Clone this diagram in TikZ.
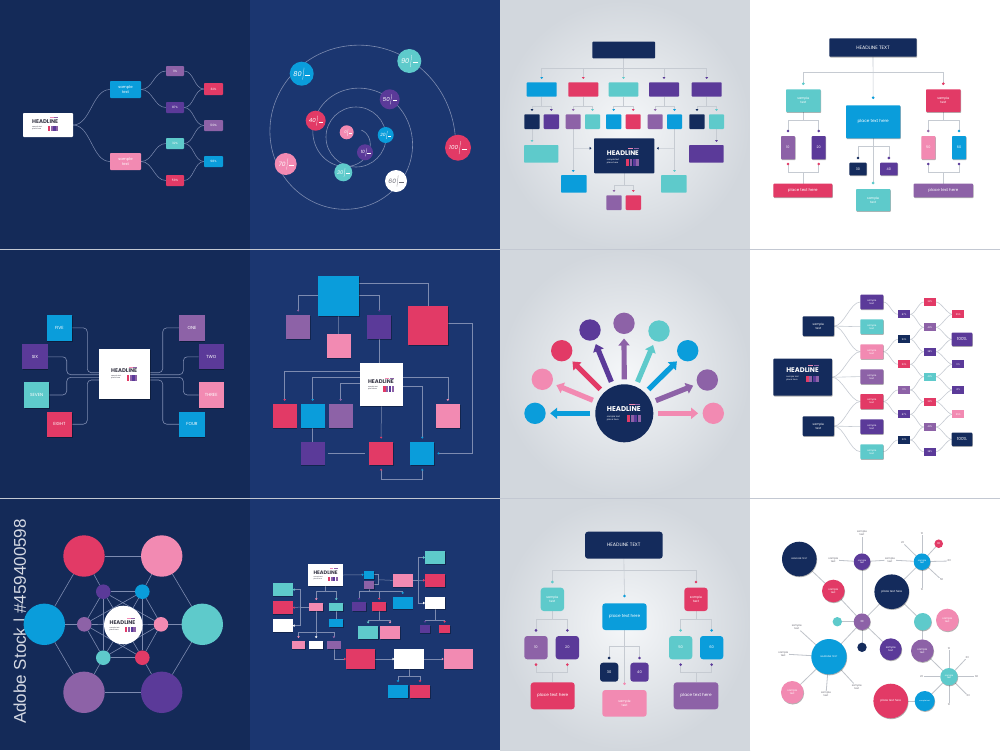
\documentclass[tikz,border=0pt]{standalone}
\usepackage{fontspec}
\setmainfont{Poppins}
\newfontfamily\wmfont{Liberation Sans}
\usetikzlibrary{arrows.meta,calc,shadows}
\pgfdeclarelayer{back}
\pgfdeclarelayer{lines}
\pgfsetlayers{back,lines,main}
\definecolor{bgA}{HTML}{142A58}
\definecolor{bgB}{HTML}{1B3670}
\definecolor{gIn}{HTML}{F5F7F9}
\definecolor{gOut}{HTML}{D2D7DD}
\definecolor{cblue}{HTML}{0A9DDB}
\definecolor{cpink}{HTML}{F28AB2}
\definecolor{cred}{HTML}{E23A66}
\definecolor{cteal}{HTML}{5ECACB}
\definecolor{cpurple}{HTML}{5B3A99}
\definecolor{clpur}{HTML}{8D62A7}
\definecolor{cnavy}{HTML}{142B5C}
\definecolor{lnD}{HTML}{7D8BB0}
\definecolor{lnL}{HTML}{C6CBD2}
\definecolor{txg}{HTML}{6B6B75}
\definecolor{hlg}{HTML}{3B3B4A}
\definecolor{sepc}{HTML}{C3C8D2}
\definecolor{wmc}{HTML}{D5D9E3}
\newcommand\fs[2]{\fontsize{#1}{#2}\selectfont}
\newcommand\mkbox[7]{\node[#6, minimum width={(#4)-(#2)}, minimum height={(#5)-(#3)}] (#1) at ({((#2)+(#4))/2},{((#3)+(#5))/2}) {#7};}
\newcommand\mkcirc[6]{\node[#5, minimum size={2*(#4)}] (#1) at (#2,#3) {#6};}
\newcommand\hlblock[4]{%
\begin{scope}[shift={(#1,#2)}, scale=#3, transform shape]
\node[anchor=base west, inner sep=0pt, font=\bfseries\fs{5.4}{5.4}, text=#4] at (-13.5,-1.7) {HEADLINE};
\node[anchor=north west, inner sep=0pt, font=\fs{1.7}{2.2}, text=#4, align=left] at (-13.5,0.9) {sample text\\place here};
\fill[cred] (2.3,1) rectangle (4.5,6.3);
\fill[clpur] (5.1,1) rectangle (7.3,6.3);
\fill[cpurple] (7.9,1) rectangle (10.1,6.3);
\fill[clpur] (10.7,1) rectangle (12.9,6.3);
\fill[cpink] (4,-7.9) rectangle (8,-7.4);
\fill[clpur] (8.6,-7.9) rectangle (12.5,-7.4);
\end{scope}}
\newcommand\mkorb[8]{%
\node[circle, fill=#5, inner sep=0pt, minimum size={2*(#4)}] (#1) at (#2,#3) {};
\node[anchor=east, inner sep=0pt, font=\itshape\fs{#7}{#7}, text=#8] at ($(#1)+({0.02*(#4)},0)$) {#6};
\draw[#8, line width=0.25pt] ($(#1)+({0.2*(#4)},{-0.5*(#4)})$) -- ($(#1)+({0.08*(#4)},{0.5*(#4)})$);
\draw[#8, line width=0.3pt] ($(#1)+({0.3*(#4)},{0.12*(#4)})$) -- ($(#1)+({0.72*(#4)},{0.12*(#4)})$);}
\tikzset{
 bx/.style={rectangle, inner sep=0pt, outer sep=0pt, fill=#1, text=white, align=center, rounded corners=0.8pt},
 sqb/.style={rectangle, inner sep=0pt, outer sep=0pt, fill=#1, text=white, align=center},
 rbx/.style={rectangle, inner sep=0pt, outer sep=0pt, fill=#1, text=white, align=center, rounded corners=3pt},
 cir/.style={circle, inner sep=0pt, outer sep=0pt, fill=#1, text=white, align=center},
 lnd/.style={draw=lnD, line width=0.5pt},
 lnl/.style={draw=lnL, line width=0.6pt},
 sc/.style={to path={.. controls +(#1,0) and +(-#1,0) .. (\tikztotarget)}},
 sc/.default=12,
 dn/.style={lnl, -{Triangle[length=1.8pt,width=2.6pt,color=#1]}},
 dd/.style={lnl, -{Circle[length=2.6pt,color=#1]}},
 an/.style={lnd, -{Triangle[length=1.8pt,width=2.4pt,color=#1]}},
 shd/.style={drop shadow={shadow xshift=0.5pt, shadow yshift=-0.9pt, opacity=0.3, fill=black}},
 arw/.style={draw=#1, line width=5.2pt, -{Triangle[length=7pt,width=11pt]}, shorten <=5pt, shorten >=4.5pt},
 tl/.style={font=\fs{2.6}{3.1}, text=txg, align=center, inner sep=0.6pt, fill=white},
}
\newcommand\pairdn[6]{%
\coordinate (#1bus) at ($(#1.south)+(0,#6)$);
\draw[lnl] (#1.south) -- (#1bus);
\draw[dn=#4] (#1bus) -| ($(#2.north)+(0,-3.3)$);
\draw[dn=#5] (#1bus) -| ($(#3.north)+(0,-3.3)$);}
\newcommand\pairdd[7]{%
\coordinate (#1bus) at ($(#1.south)+(0,#6)$);
\draw[lnl] (#1.south) -- (#1bus);
\draw[dd=#4] (#1bus) -| ($(#2.north)+(0,-#7)$);
\draw[dd=#5] (#1bus) -| ($(#3.north)+(0,-#7)$);}
\newcommand\mergeup[7]{%
\draw[lnl, {Circle[length=2.6pt,color=#4]}-] ($(#1.south)+(0,#6)$) |- ($(#3.north)+(0,-#7)$) -- (#3.north);
\draw[lnl, {Circle[length=2.6pt,color=#5]}-] ($(#2.south)+(0,#6)$) |- ($(#3.north)+(0,-#7)$);}
\begin{document}
\begin{tikzpicture}[x=1pt,y=-1pt]
\useasboundingbox (0,0) rectangle (1000,750);
% ================= backgrounds
\begin{pgfonlayer}{back}
\fill[bgA] (0,0) rectangle (250,249.5);
\fill[bgB] (250,0) rectangle (500,249.5);
\shade[inner color=gIn, outer color=gOut] (500,0) rectangle (750,249.5);
\fill[white] (750,0) rectangle (1000,249.5);
\fill[bgA] (0,249.5) rectangle (250,498.5);
\fill[bgB] (250,249.5) rectangle (500,498.5);
\shade[inner color=gIn, outer color=gOut] (500,249.5) rectangle (750,498.5);
\fill[white] (750,249.5) rectangle (1000,498.5);
\fill[bgA] (0,498.5) rectangle (250,750);
\fill[bgB] (250,498.5) rectangle (500,750);
\shade[inner color=gIn, outer color=gOut] (500,498.5) rectangle (750,750);
\fill[white] (750,498.5) rectangle (1000,750);
\draw[sepc, line width=1.2pt] (0,249.5) -- (1000,249.5);
\draw[sepc, line width=1.2pt] (0,498.5) -- (1000,498.5);
\end{pgfonlayer}

% ================= Panel 1
\mkbox{p1h}{23}{113}{73}{137}{bx=white}{}
\hlblock{45.5}{125}{1}{hlg}
\mkbox{p1s}{110}{81}{141}{98}{bx=cblue,font=\fs{3.8}{4.8}}{sample\\text}
\mkbox{p1t}{110}{153}{141}{170}{bx=cpink,font=\fs{3.8}{4.8}}{sample\\text}
\mkbox{p1a}{166}{66}{184}{76}{bx=clpur,font=\fs{3}{3}}{11\%}
\mkbox{p1b}{166}{102}{184}{113}{bx=cpurple,font=\fs{3}{3}}{87\%}
\mkbox{p1c}{166}{138}{184}{149}{bx=cteal,font=\fs{3}{3}}{32\%}
\mkbox{p1d}{166}{175}{184}{186}{bx=cred,font=\fs{3}{3}}{59\%}
\mkbox{p1e}{204}{83}{223}{95}{bx=cred,font=\fs{3}{3}}{32\%}
\mkbox{p1f}{204}{120}{223}{131}{bx=clpur,font=\fs{3}{3}}{100\%}
\mkbox{p1g}{204}{156}{223}{167}{bx=cblue,font=\fs{3}{3}}{98\%}
\begin{pgfonlayer}{lines}
\draw[lnd] (p1h.east) to[sc=18] (p1s.west);
\draw[lnd] (p1h.east) to[sc=18] (p1t.west);
\draw[lnd] (p1s.east) to[sc=12] (p1a.west);
\draw[lnd] (p1s.east) to[sc=12] (p1b.west);
\draw[lnd] (p1t.east) to[sc=12] (p1c.west);
\draw[lnd] (p1t.east) to[sc=12] (p1d.west);
\draw[lnd] (p1a.east) to[sc=10] (p1e.west);
\draw[lnd] (p1b.east) to[sc=10] (p1e.west);
\draw[lnd] (p1b.east) to[sc=10] (p1f.west);
\draw[lnd] (p1c.east) to[sc=10] (p1f.west);
\draw[lnd] (p1c.east) to[sc=10] (p1g.west);
\draw[lnd] (p1d.east) to[sc=10] (p1g.west);
\end{pgfonlayer}

% ================= Panel 2
\begin{pgfonlayer}{lines}
\draw[lnd, line width=0.6pt] plot[domain=-40:725, samples=220, smooth, variable=\t] ({352+(17+0.12*\t)*cos(\t)},{138+(17+0.12*\t)*sin(\t)});
\draw[lnd, line width=0.6pt] (356,137) circle[radius=30];
\end{pgfonlayer}
\mkorb{o0}{346.7}{132.3}{7}{cpink}{0}{3.8}{white}
\mkorb{o10}{365}{152.3}{8}{cpurple}{10}{4.4}{white}
\mkorb{o20}{385.7}{135}{8}{cblue}{20}{4.4}{white}
\mkorb{o30}{343.3}{172.3}{9}{cteal}{30}{5}{white}
\mkorb{o40}{315.7}{120.7}{10}{cred}{40}{5.5}{white}
\mkorb{o50}{389.7}{99.3}{10}{cpurple}{50}{5.5}{white}
\mkorb{o60}{396}{181}{11}{white}{60}{6}{txg}
\mkorb{o70}{285.7}{164}{11}{cpink}{70}{6}{white}
\mkorb{o80}{301.7}{73.7}{12}{cblue}{80}{6.6}{white}
\mkorb{o90}{409.3}{61}{12}{cteal}{90}{6.6}{white}
\mkorb{o100}{458}{147.7}{13}{cred}{100}{5.6}{white}

% ================= Panel 3
\mkbox{t3}{592.3}{41.7}{655}{58.3}{bx=cnavy}{}
\mkbox{b31}{526.7}{82.3}{556.7}{96.7}{bx=cblue}{}
\mkbox{b32}{568.3}{82.3}{598.3}{96.7}{bx=cred}{}
\mkbox{b33}{608.7}{82.3}{638.3}{96.7}{bx=cteal}{}
\mkbox{b34}{649}{82.3}{679}{96.7}{bx=cpurple}{}
\mkbox{b35}{691.7}{82.3}{721.7}{96.7}{bx=cpurple}{}
\mkbox{s31}{524.3}{114.3}{539.7}{129}{bx=cnavy}{}
\mkbox{s32}{543.7}{114.3}{559}{129}{bx=cpurple}{}
\mkbox{s33}{565.7}{114.3}{580.7}{129}{bx=clpur}{}
\mkbox{s34}{585}{114.3}{600}{129}{bx=cteal}{}
\mkbox{s35}{606}{114.3}{621.3}{129}{bx=cblue}{}
\mkbox{s36}{625.7}{114.3}{640.7}{129}{bx=cred}{}
\mkbox{s37}{647.7}{114.3}{662.7}{129}{bx=clpur}{}
\mkbox{s38}{667}{114.3}{682}{129}{bx=cblue}{}
\mkbox{s39}{689.3}{114.3}{704.7}{129}{bx=cnavy}{}
\mkbox{s30}{709}{114.3}{724}{129}{bx=cteal}{}
\mkbox{l31}{524}{145}{558.3}{162.7}{bx=cteal}{}
\mkbox{l32}{561}{175}{586.7}{192.7}{bx=cblue}{}
\mkbox{l33}{661}{175}{686.7}{192.7}{bx=cteal}{}
\mkbox{l34}{689}{145}{723.7}{162.7}{bx=cpurple}{}
\mkbox{h3}{594}{138.3}{654.3}{173.3}{bx=cnavy}{}
\hlblock{623.3}{157.9}{1.23}{white}
\mkbox{u31}{606.3}{195.3}{621.7}{210}{bx=clpur}{}
\mkbox{u32}{625.7}{195.3}{641}{210}{bx=cred}{}
\begin{pgfonlayer}{lines}
\coordinate (t3bus) at ($(t3.south)+(0,10)$);
\draw[lnl] (t3.south) -- (t3bus);
\draw[dn=cblue] (t3bus) -| ($(b31.north)+(0,-3.3)$);
\draw[dn=cred] (t3bus) -| ($(b32.north)+(0,-3.3)$);
\draw[dn=cteal] (t3bus) -| ($(b33.north)+(0,-3.3)$);
\draw[dn=cpurple] (t3bus) -| ($(b34.north)+(0,-3.3)$);
\draw[dn=cpurple] (t3bus) -| ($(b35.north)+(0,-3.3)$);
\pairdn{b31}{s31}{s32}{cnavy}{cpurple}{9.3}
\pairdn{b32}{s33}{s34}{clpur}{cteal}{9.3}
\pairdn{b33}{s35}{s36}{cblue}{cred}{9.3}
\pairdn{b34}{s37}{s38}{clpur}{cblue}{9.3}
\pairdn{b35}{s39}{s30}{cnavy}{cteal}{9.3}
\draw[dn=cteal] (s31.south) -- ($(s31.south |- l31.north)+(0,-3)$);
\draw[dn=cpurple] (s30.south) -- ($(s30.south |- l34.north)+(0,-3)$);
\draw[dn=cblue] (s33.south) -- ($(s33.south |- l32.north)+(0,-3)$);
\draw[dn=cteal] (s38.south) -- ($(s38.south |- l33.north)+(0,-3)$);
\draw[dn=cnavy] ($(s33.south)+(0,19.3)$) -- ($(h3.west)+(-2.5,-7.5)$);
\draw[dn=cnavy] ($(s38.south)+(0,19.3)$) -- ($(h3.east)+(2.5,-7.5)$);
\pairdn{h3}{u31}{u32}{clpur}{cred}{11.7}
\end{pgfonlayer}

% ================= Panel 4
\mkbox{h4}{829.3}{38.3}{916.7}{56.7}{bx=cnavy,shd,font=\fs{4.8}{5},text=white!85}{HEADLINE TEXT}
\mkbox{a4}{786}{89.3}{820.7}{112}{bx=cteal,shd,font=\fs{3.2}{4.2}}{sample\\text}
\mkbox{c4}{846}{105.3}{900.3}{138.3}{bx=cblue,shd,font=\fs{4.2}{5}}{place text here}
\mkbox{r4}{926}{89.3}{960.7}{112}{bx=cred,shd,font=\fs{3.2}{4.2}}{sample\\text}
\mkbox{t41}{781}{136}{795}{159.3}{bx=clpur,shd,font=\fs{3.4}{4}}{10}
\mkbox{t42}{811.7}{136}{825.7}{159.3}{bx=cpurple,shd,font=\fs{3.4}{4}}{20}
\mkbox{t43}{849.3}{162.7}{866.7}{175.3}{bx=cnavy,shd,font=\fs{3.4}{4}}{30}
\mkbox{t44}{880}{162.7}{897.7}{175.3}{bx=cpurple,shd,font=\fs{3.4}{4}}{40}
\mkbox{t45}{921.3}{136}{935.3}{159.3}{bx=cpink,shd,font=\fs{3.4}{4}}{50}
\mkbox{t46}{952}{136}{966}{159.3}{bx=cblue,shd,font=\fs{3.4}{4}}{60}
\mkbox{l41}{773.3}{183.7}{832.3}{197.3}{bx=cred,shd,font=\fs{4}{5}}{place text here}
\mkbox{c42}{856}{189}{890.3}{211}{bx=cteal,shd,font=\fs{3.2}{4.2}}{sample\\text}
\mkbox{l42}{913.7}{183.7}{973}{197.3}{bx=clpur,shd,font=\fs{4}{5}}{place text here}
\begin{pgfonlayer}{lines}
\coordinate (h4bus) at ($(h4.south)+(0,16)$);
\draw[dd=cblue] (h4.south) -- ($(c4.north)+(0,-6.3)$);
\draw[dd=cteal] (h4bus) -| ($(a4.north)+(0,-4.3)$);
\draw[dd=cred] (h4bus) -| ($(r4.north)+(0,-4.3)$);
\pairdd{a4}{t41}{t42}{cpurple}{cpurple}{8}{3.7}
\pairdd{r4}{t45}{t46}{clpur}{cblue}{8}{3.7}
\pairdd{c4}{t43}{t44}{cnavy}{cpurple}{8.4}{3.4}
\draw[dd=cteal] (c4.south) -- ($(c42.north)+(0,-4.7)$);
\mergeup{t41}{t42}{l41}{cred}{cred}{3.4}{11.4}
\mergeup{t45}{t46}{l42}{cpurple}{cpurple}{3.4}{11.4}
\end{pgfonlayer}

% ================= Panel 5
\mkbox{h5}{99.3}{349.3}{150}{399.3}{sqb=white,shd}{}
\hlblock{124.5}{374.4}{1}{hlg}
\mkbox{f1}{179.3}{315}{204.7}{340.7}{sqb=clpur,shd,font=\fs{4.4}{5}}{ONE}
\mkbox{f2}{198.7}{344.3}{223.7}{369.3}{sqb=cpurple,shd,font=\fs{4.4}{5}}{TWO}
\mkbox{f3}{198.7}{382.3}{223.7}{407.7}{sqb=cpink,shd,font=\fs{4.4}{5}}{THREE}
\mkbox{f4}{179.3}{411.7}{204.7}{436.7}{sqb=cblue,shd,font=\fs{4.4}{5}}{FOUR}
\mkbox{f5}{46.7}{315}{72}{340.7}{sqb=cblue,shd,font=\fs{4.4}{5}}{FIVE}
\mkbox{f6}{22.3}{344.3}{47.7}{369.3}{sqb=cpurple,shd,font=\fs{4.4}{5}}{SIX}
\mkbox{f7}{24}{382.3}{49.3}{407.7}{sqb=cteal,shd,font=\fs{4.4}{5}}{SEVEN}
\mkbox{f8}{46.7}{411.7}{72}{436.7}{sqb=cred,shd,font=\fs{4.4}{5}}{EIGHT}
\begin{pgfonlayer}{lines}
\draw[lnd, line width=0.6pt, rounded corners=4pt] (f5.east) -| ($(h5.west)+(-12,-1.6)$) -- ($(h5.west)+(0,-1.6)$);
\draw[lnd, line width=0.6pt, rounded corners=4pt] (f6.east) -| ($(h5.west)+(-32.6,0.4)$) -- ($(h5.west)+(0,0.4)$);
\draw[lnd, line width=0.6pt, rounded corners=4pt] (f7.east) -| ($(h5.west)+(-32.6,3)$) -- ($(h5.west)+(0,3)$);
\draw[lnd, line width=0.6pt, rounded corners=4pt] (f8.east) -| ($(h5.west)+(-12,5.7)$) -- ($(h5.west)+(0,5.7)$);
\draw[lnd, line width=0.6pt, rounded corners=4pt] (f1.west) -| ($(h5.east)+(12.7,-1.6)$) -- ($(h5.east)+(0,-1.6)$);
\draw[lnd, line width=0.6pt, rounded corners=4pt] (f2.west) -| ($(h5.east)+(33.3,0.4)$) -- ($(h5.east)+(0,0.4)$);
\draw[lnd, line width=0.6pt, rounded corners=4pt] (f3.west) -| ($(h5.east)+(33.3,3)$) -- ($(h5.east)+(0,3)$);
\draw[lnd, line width=0.6pt, rounded corners=4pt] (f4.west) -| ($(h5.east)+(12.7,5.7)$) -- ($(h5.east)+(0,5.7)$);
\end{pgfonlayer}

% ================= Panel 6
\mkbox{g6a}{318.3}{275.7}{359}{315.7}{sqb=cblue,shd}{}
\mkbox{g6b}{408.3}{306}{448}{345}{sqb=cred,shd}{}
\mkbox{g6c}{286}{314.7}{310.3}{338.7}{sqb=clpur,shd}{}
\mkbox{g6d}{326.7}{334.3}{350.7}{358.3}{sqb=cpink,shd}{}
\mkbox{g6e}{367.3}{314.7}{391.3}{338.7}{sqb=cpurple,shd}{}
\mkbox{h6}{360}{363.3}{402.7}{405.7}{sqb=white,shd}{}
\hlblock{381.2}{385.4}{0.99}{hlg}
\mkbox{g6f}{272.7}{404}{296.7}{427.7}{sqb=cred,shd}{}
\mkbox{g6g}{300.7}{404}{324.7}{427.7}{sqb=cblue,shd}{}
\mkbox{g6h}{328.7}{404}{352.7}{427.7}{sqb=clpur,shd}{}
\mkbox{g6i}{435.7}{404}{460}{427.7}{sqb=cpink,shd}{}
\mkbox{g6j}{300.7}{441.7}{324.7}{465}{sqb=cpurple,shd}{}
\mkbox{g6k}{369}{441.7}{393.3}{465}{sqb=cred,shd}{}
\mkbox{g6l}{410.3}{441.7}{434.3}{465}{sqb=cblue,shd}{}
\begin{pgfonlayer}{lines}
\draw[an=clpur] (g6a.west) -| ($(g6c.north)+(0,-3)$);
\draw[an=cpurple] (g6a.east) -| ($(g6e.north)+(0,-3)$);
\draw[lnd] (g6a.south) -- (g6d.north);
\draw[lnd] ($(g6a.north east)+(0,7.6)$) -| (g6b.north);
\draw[an=cblue] ($(g6b.east)+(0,-2.2)$) -- ++(24.7,0) |- ($(g6l.east)+(3,0)$);
\draw[lnd] (g6e.south) -- (g6e.south |- h6.north);
\draw[an=cred] ($(h6.north west)+(0,8.4)$) -| ($(g6f.north)+(0,-3)$);
\draw[an=cblue] ($(h6.north west)+(0,14.4)$) -| ($(g6g.north)+(0,-3)$);
\draw[an=clpur] ($(h6.north west)+(0,20)$) -| ($(g6h.north)+(0,-3)$);
\draw[an=cpink] ($(h6.north east)+(0,14.4)$) -| ($(g6i.north)+(0,-3)$);
\draw[an=cblue] ($(h6.north east)+(0,23.4)$) -| ($(g6l.north)+(0,-3)$);
\draw[an=cred] (h6.south) -- ($(g6k.north)+(0,-3)$);
\draw[lnd] (g6g.south) -- (g6j.north);
\draw[lnd] ($(g6j.east)+(3,0)$) -- ($(g6k.west)+(-4,0)$);
\draw[lnd, {Triangle[length=1.8pt,width=2.4pt,color=cred]}-{Triangle[length=1.8pt,width=2.4pt,color=cblue]}] ($(g6k.south)+(0,3.5)$) -- ($(g6k.south)+(0,14.3)$) -| ($(g6l.south)+(0,3.5)$);
\end{pgfonlayer}

% ================= Panel 7
\mkcirc{h7}{624.3}{413.3}{29}{cir=cnavy}{}
\hlblock{624.2}{414.1}{1.3}{white}
\mkcirc{q1}{535}{413.3}{10.7}{cir=cblue}{}
\mkcirc{q2}{542.3}{379.3}{10.7}{cir=cpink}{}
\mkcirc{q3}{561.7}{350.7}{10.7}{cir=cred}{}
\mkcirc{q4}{590}{330}{10.7}{cir=cpurple}{}
\mkcirc{q5}{624}{323.3}{10.7}{cir=clpur}{}
\mkcirc{q6}{659}{331}{10.7}{cir=cteal}{}
\mkcirc{q7}{687.7}{350.7}{10.7}{cir=cblue}{}
\mkcirc{q8}{707.3}{380}{10.7}{cir=clpur}{}
\mkcirc{q9}{713.3}{413.3}{10.7}{cir=cpink}{}
\begin{pgfonlayer}{lines}
\draw[arw=cblue] (h7) -- (q1);
\draw[arw=cpink] (h7) -- (q2);
\draw[arw=cred] (h7) -- (q3);
\draw[arw=cpurple] (h7) -- (q4);
\draw[arw=clpur] (h7) -- (q5);
\draw[arw=cteal] (h7) -- (q6);
\draw[arw=cblue] (h7) -- (q7);
\draw[arw=clpur] (h7) -- (q8);
\draw[arw=cpink] (h7) -- (q9);
\end{pgfonlayer}

% ================= Panel 8
\mkbox{e8h}{773.3}{358.7}{832}{395.7}{bx=cnavy,shd}{}
\hlblock{802.9}{374.6}{1.25}{white}
\mkbox{e8a}{802.7}{316.3}{834}{336}{bx=cnavy,shd,font=\fs{3}{4},text=white!80}{sample\\text}
\mkbox{e8b}{802.7}{416.3}{834}{436}{bx=cnavy,shd,font=\fs{3}{4},text=white!80}{sample\\text}
\mkbox{m81}{860.3}{294.7}{883.3}{309.3}{bx=cpurple,shd,font=\fs{2.4}{3},text=white!75}{sample\\text}
\mkbox{m82}{860.3}{319.3}{883.3}{334}{bx=cteal,shd,font=\fs{2.4}{3},text=white!75}{sample\\text}
\mkbox{m83}{860.3}{344.3}{883.3}{359}{bx=cpink,shd,font=\fs{2.4}{3},text=white!75}{sample\\text}
\mkbox{m84}{860.3}{369.3}{883.3}{384}{bx=clpur,shd,font=\fs{2.4}{3},text=white!75}{sample\\text}
\mkbox{m85}{860.3}{394}{883.3}{409}{bx=cred,shd,font=\fs{2.4}{3},text=white!75}{sample\\text}
\mkbox{m86}{860.3}{419.3}{883.3}{434}{bx=cpurple,shd,font=\fs{2.4}{3},text=white!75}{sample\\text}
\mkbox{m87}{860.3}{444.3}{883.3}{459}{bx=cteal,shd,font=\fs{2.4}{3},text=white!75}{sample\\text}
\mkbox{n81}{898}{310.3}{910.3}{318.3}{sqb=cpurple,font=\fs{2.3}{2.3}}{87\%}
\mkbox{n82}{898}{335.3}{910.3}{343.3}{sqb=cnavy,font=\fs{2.3}{2.3}}{50\%}
\mkbox{n83}{898}{360.3}{910.3}{368.3}{sqb=cred,font=\fs{2.3}{2.3}}{50\%}
\mkbox{n84}{898}{386}{910.3}{394}{sqb=clpur,font=\fs{2.3}{2.3}}{11\%}
\mkbox{n85}{898}{410.3}{910.3}{418.3}{sqb=cpurple,font=\fs{2.3}{2.3}}{87\%}
\mkbox{n86}{898}{436}{910.3}{444}{sqb=cnavy,font=\fs{2.3}{2.3}}{32\%}
\mkbox{q81}{923.7}{298}{936}{306}{sqb=cred,font=\fs{2.3}{2.3}}{32\%}
\mkbox{q82}{923.7}{323.3}{936}{331.3}{sqb=clpur,font=\fs{2.3}{2.3}}{43\%}
\mkbox{q83}{923.7}{347.7}{936}{355.7}{sqb=cpurple,font=\fs{2.3}{2.3}}{38\%}
\mkbox{q84}{923.7}{372.7}{936}{380.7}{sqb=cteal,font=\fs{2.3}{2.3}}{43\%}
\mkbox{q85}{923.7}{397.7}{936}{405.7}{sqb=cred,font=\fs{2.3}{2.3}}{32\%}
\mkbox{q86}{923.7}{423}{936}{431}{sqb=clpur,font=\fs{2.3}{2.3}}{43\%}
\mkbox{q87}{923.7}{447.7}{936}{455.7}{sqb=cpurple,font=\fs{2.3}{2.3}}{38\%}
\mkbox{r81}{952.3}{310.3}{964.3}{318.3}{sqb=cred,font=\fs{2.3}{2.3}}{55\%}
\mkbox{r82}{951.7}{332.7}{972.3}{346}{bx=cpurple,shd,font=\fs{4.2}{4.2}}{100\%}
\mkbox{r83}{952.3}{360.3}{964.3}{368.3}{sqb=cpurple,font=\fs{2.3}{2.3}}{11\%}
\mkbox{r84}{952.3}{386}{964.3}{394}{sqb=cpurple,font=\fs{2.3}{2.3}}{21\%}
\mkbox{r85}{952.3}{410.3}{964.3}{418.3}{sqb=cpink,font=\fs{2.3}{2.3}}{55\%}
\mkbox{r86}{951.7}{432.7}{972.3}{446}{bx=cnavy,shd,font=\fs{4.2}{4.2}}{100\%}
\begin{pgfonlayer}{lines}
\draw[lnl] (e8a.east) to[sc=10] (m81.west);
\draw[lnl] (e8a.east) to[sc=10] (m82.west);
\draw[lnl] (e8a.east) to[sc=10] (m83.west);
\draw[lnl] (e8h.east) to[sc=10] (m83.west);
\draw[lnl] (e8h.east) to[sc=10] (m84.west);
\draw[lnl] (e8h.east) to[sc=10] (m85.west);
\draw[lnl] (e8b.east) to[sc=10] (m85.west);
\draw[lnl] (e8b.east) to[sc=10] (m86.west);
\draw[lnl] (e8b.east) to[sc=10] (m87.west);
\draw[lnl] (m81.east) to[sc=6] (n81.west);
\draw[lnl] (m83.east) to[sc=6] (n82.west);
\draw[lnl] (m83.east) to[sc=6] (n83.west);
\draw[lnl] (m85.east) to[sc=6] (n84.west);
\draw[lnl] (m85.east) to[sc=6] (n85.west);
\draw[lnl] (m87.east) to[sc=6] (n86.west);
\draw[lnl] (n81.east) to[sc=5] (q81.west);
\draw[lnl] (n81.east) to[sc=5] (q82.west);
\draw[lnl] (n82.east) to[sc=5] (q82.west);
\draw[lnl] (n82.east) to[sc=5] (q83.west);
\draw[lnl] (n83.east) to[sc=5] (q83.west);
\draw[lnl] (n83.east) to[sc=5] (q84.west);
\draw[lnl] (n84.east) to[sc=5] (q84.west);
\draw[lnl] (n84.east) to[sc=5] (q85.west);
\draw[lnl] (n85.east) to[sc=5] (q85.west);
\draw[lnl] (n85.east) to[sc=5] (q86.west);
\draw[lnl] (n86.east) to[sc=5] (q86.west);
\draw[lnl] (n86.east) to[sc=5] (q87.west);
\draw[lnl] (q81.east) to[sc=5] (r81.west);
\draw[lnl] (q82.east) to[sc=5] (r81.west);
\draw[lnl] (q82.east) to[sc=5] (r82.west);
\draw[lnl] (q83.east) to[sc=5] (r82.west);
\draw[lnl] (q83.east) to[sc=5] (r83.west);
\draw[lnl] (q84.east) to[sc=5] (r83.west);
\draw[lnl] (q84.east) to[sc=5] (r84.west);
\draw[lnl] (q85.east) to[sc=5] (r84.west);
\draw[lnl] (q85.east) to[sc=5] (r85.west);
\draw[lnl] (q86.east) to[sc=5] (r85.west);
\draw[lnl] (q86.east) to[sc=5] (r86.west);
\draw[lnl] (q87.east) to[sc=5] (r86.west);
\end{pgfonlayer}

% ================= Panel 9
\node[rotate=90, font=\wmfont\fs{17}{17}, text=wmc, inner sep=0pt] (wm) at (21.5,621.5) {Adobe Stock | \#459400598};
\mkcirc{k01}{84}{556}{20.7}{cir=cred}{}
\mkcirc{k02}{161.7}{556}{20.7}{cir=cpink}{}
\mkcirc{k03}{202.3}{624.3}{20.7}{cir=cteal}{}
\mkcirc{k04}{161.7}{692.3}{20.7}{cir=cpurple}{}
\mkcirc{k05}{84}{692.3}{20.7}{cir=clpur}{}
\mkcirc{k06}{44.3}{624.3}{20.7}{cir=cblue}{}
\mkcirc{k11}{103.3}{591.7}{7.3}{cir=cpurple}{}
\mkcirc{k12}{142.3}{591.7}{7.3}{cir=cblue}{}
\mkcirc{k13}{161}{624.3}{7.3}{cir=cpink}{}
\mkcirc{k14}{142.3}{657.7}{7.3}{cir=cred}{}
\mkcirc{k15}{103.3}{657.7}{7.3}{cir=cteal}{}
\mkcirc{k16}{84.3}{624.3}{7.3}{cir=clpur}{}
\mkcirc{c9}{123.3}{625}{19.3}{cir=white}{}
\hlblock{122.8}{626}{0.99}{hlg}
\begin{pgfonlayer}{lines}
\foreach \a/\b in {k01/k02,k02/k03,k03/k04,k04/k05,k05/k06,k06/k01,
  k11/k12,k12/k13,k13/k14,k14/k15,k15/k16,k16/k11,
  k01/k11,k02/k12,k03/k13,k04/k14,k05/k15,k06/k16,
  k11/c9,k12/c9,k13/c9,k14/c9,k15/c9,k16/c9,
  k11/k13,k13/k15,k15/k11,k12/k14,k14/k16,k16/k12}
  \draw[lnd, line width=0.6pt] (\a) -- (\b);
\end{pgfonlayer}

% ================= Panel 10
\mkbox{a10}{308.3}{564}{342.7}{586}{sqb=white,shd}{}
\hlblock{325.9}{575.6}{0.93}{hlg}
\mkbox{l101}{272.7}{583.3}{292.7}{596}{sqb=cteal,shd}{}
\mkbox{l102}{272.7}{601.3}{292.7}{614}{sqb=cred,shd}{}
\mkbox{l103}{272.7}{619.3}{292.7}{632}{sqb=white,shd}{}
\mkbox{ps10}{309.3}{602.7}{323.3}{611.3}{sqb=cpink,shd}{}
\mkbox{ts10}{329.3}{602.7}{343.3}{611.3}{sqb=cteal,shd}{}
\mkbox{bs10}{329.3}{618.7}{343.3}{627.3}{sqb=cblue,shd}{}
\mkbox{rw1}{291.7}{640.7}{305.3}{649.3}{sqb=cpink,shd}{}
\mkbox{rw2}{309.3}{640.7}{323}{649.3}{sqb=white,shd}{}
\mkbox{rw3}{327}{640.7}{340.7}{649.3}{sqb=clpur,shd}{}
\mkbox{sb10}{363.7}{570.7}{374}{578.7}{sqb=cblue,shd}{}
\mkbox{sl10}{363.7}{580.7}{374}{588.7}{sqb=clpur,shd}{}
\mkbox{pm10}{392.7}{574}{412.7}{586.7}{sqb=cpink,shd}{}
\mkbox{rc1}{425}{551}{445}{564}{sqb=cteal,shd}{}
\mkbox{rc2}{425}{573.7}{445}{586.7}{sqb=cred,shd}{}
\mkbox{rc3}{425}{596.7}{445}{609.3}{sqb=white,shd}{}
\mkbox{u101}{352}{602.3}{366}{611.3}{sqb=cpurple,shd}{}
\mkbox{u102}{372.3}{602.3}{386}{611.3}{sqb=cred,shd}{}
\mkbox{u103}{392.7}{596.7}{412.7}{609.3}{sqb=cblue,shd}{}
\mkbox{v101}{358}{626}{378.3}{639.3}{sqb=cteal,shd}{}
\mkbox{v102}{380}{626}{400}{639.3}{sqb=cpink,shd}{}
\mkbox{w101}{419.7}{625.3}{430.3}{633}{sqb=cpurple,shd}{}
\mkbox{w102}{439.3}{625.3}{450}{633}{sqb=cred,shd}{}
\mkbox{br10}{346}{649.3}{375}{668.7}{sqb=cred,shd}{}
\mkbox{bw10}{394.3}{649.3}{423.7}{668.7}{sqb=white,shd}{}
\mkbox{bp10}{443.7}{649.3}{472.7}{668.7}{sqb=cpink,shd}{}
\mkbox{x101}{388}{684.7}{408}{697.7}{sqb=cblue,shd}{}
\mkbox{x102}{410}{684.7}{430}{697.7}{sqb=cred,shd}{}
\begin{pgfonlayer}{lines}
\draw[an=cblue] (a10.east) -- (sb10.west);
\draw[lnd] (sb10.east) -- ++(4,0) |- (sl10.east);
\draw[lnd] ($(sb10.east)!0.5!(sl10.east)+(4,0)$) -- (pm10.west);
\coordinate (k10r) at ($(pm10.east)+(5.6,0)$);
\draw[lnd] (pm10.east) -- (k10r);
\draw[an=cteal] (k10r) |- (rc1.west);
\draw[an=cred] (k10r) -- (rc2.west);
\draw[an=white] (k10r) |- (rc3.west);
\coordinate (b10s) at ($(sl10.south)+(0,3)$);
\draw[lnd] (sl10.south) -- (b10s);
\draw[an=cpurple] (b10s) -| ($(u101.north)+(0,-2.5)$);
\draw[an=cred] (b10s) -| ($(u102.north)+(0,-2.5)$);
\draw[an=cblue] (b10s) -| ($(u103.north)+(0,-2.5)$);
\coordinate (b10a) at ($(a10.south)+(0,5.7)$);
\draw[lnd] (a10.south) -- (b10a);
\draw[an=cpink] (b10a) -| ($(ps10.north)+(0,-2.5)$);
\draw[an=cteal] (b10a) -| ($(ts10.north)+(0,-2.5)$);
\coordinate (k10l) at ($(ps10.west)+(-8.6,0)$);
\draw[lnd] (ps10.west) -- (k10l);
\draw[an=cteal] (k10l) |- (l101.east);
\draw[an=cred] (k10l) -- (l102.east);
\draw[an=white] (k10l) |- (l103.east);
\draw[lnd] (ts10.south) -- (bs10.north);
\coordinate (b10b) at ($(ps10.south)+(0,21.4)$);
\draw[lnd] (ps10.south) -- (b10b);
\draw[an=cpink] (b10b) -| ($(rw1.north)+(0,-2.5)$);
\draw[an=white] (b10b) -| ($(rw2.north)+(0,-2.5)$);
\draw[an=clpur] (b10b) -| ($(rw3.north)+(0,-2.5)$);
\draw[an=cred] (rw3.south) |- (br10.west);
\draw[an=white] (br10.east) -- (bw10.west);
\draw[an=cpink] (bw10.east) -- (bp10.west);
\coordinate (b10c) at ($(bw10.south)+(0,8)$);
\draw[lnd] (bw10.south) -- (b10c);
\draw[an=cblue] (b10c) -| ($(x101.north)+(0,-2.5)$);
\draw[an=cred] (b10c) -| ($(x102.north)+(0,-2.5)$);
\coordinate (b10d) at ($(u102.south)+(0,8.7)$);
\draw[lnd] (u102.south) -- (b10d);
\draw[an=cteal] (b10d) -| ($(v101.north)+(0,-2.5)$);
\draw[an=cpink] (b10d) -| ($(v102.north)+(0,-2.5)$);
\coordinate (b10e) at ($(rc3.south)+(0,10.7)$);
\draw[lnd] (rc3.south) -- (b10e);
\draw[an=cpurple] (b10e) -| ($(w101.north)+(0,-2.5)$);
\draw[an=cred] (b10e) -| ($(w102.north)+(0,-2.5)$);
\end{pgfonlayer}

% ================= Panel 11
\mkbox{h11}{585}{531.7}{662.7}{558.7}{rbx=cnavy,font=\fs{4.8}{5},text=white!85}{HEADLINE TEXT}
\mkbox{a11}{540.7}{587.7}{564}{611}{rbx=cteal,font=\fs{3.2}{4.2}}{sample\\text}
\mkbox{c11}{602.3}{603.3}{646.7}{630}{rbx=cblue,font=\fs{4.2}{5}}{place text here}
\mkbox{r11}{684.3}{587.7}{707.7}{611}{rbx=cred,font=\fs{3.2}{4.2}}{sample\\text}
\mkbox{t111}{524.3}{636}{547.7}{659.3}{rbx=clpur,font=\fs{3.6}{4}}{10}
\mkbox{t112}{555.7}{636}{579}{659.3}{rbx=cpurple,font=\fs{3.6}{4}}{20}
\mkbox{t113}{600}{662.7}{618.3}{681.7}{rbx=cnavy,font=\fs{3.6}{4}}{30}
\mkbox{t114}{630.3}{662.7}{648.7}{681.7}{rbx=cpurple,font=\fs{3.6}{4}}{40}
\mkbox{t115}{669}{636}{692.3}{659.3}{rbx=cteal,font=\fs{3.6}{4}}{50}
\mkbox{t116}{700}{636}{723.3}{659.3}{rbx=cblue,font=\fs{3.6}{4}}{60}
\mkbox{l111}{530.7}{682.3}{574.7}{709.3}{rbx=cred,font=\fs{4.2}{5}}{place text here}
\mkbox{c112}{602.3}{690}{646.7}{716.7}{rbx=cpink,font=\fs{3.2}{4.2}}{sample\\text}
\mkbox{l112}{673.7}{682.3}{718.3}{709.3}{rbx=clpur,font=\fs{4.2}{5}}{place text here}
\begin{pgfonlayer}{lines}
\coordinate (h11bus) at ($(h11.south)+(0,12)$);
\draw[dd=cblue] (h11.south) -- ($(c11.north)+(0,-6)$);
\draw[dd=cteal] (h11bus) -| ($(a11.north)+(0,-4.4)$);
\draw[dd=cred] (h11bus) -| ($(r11.north)+(0,-4.4)$);
\pairdd{a11}{t111}{t112}{cpurple}{cpurple}{8}{4.3}
\pairdd{r11}{t115}{t116}{cteal}{cblue}{8}{4.3}
\pairdd{c11}{t113}{t114}{cnavy}{cpurple}{16.7}{3.4}
\draw[dd=cpink] (c11.south) -- ($(c112.north)+(0,-5)$);
\mergeup{t111}{t112}{l111}{cred}{cred}{4}{10}
\mergeup{t115}{t116}{l112}{cpurple}{cpurple}{4}{10}
\end{pgfonlayer}

% ================= Panel 12
\mkcirc{z1}{799.3}{559}{17.3}{cir=cnavy,shd,font=\fs{2.3}{2.8}}{HEADLINE TEXT}
\mkcirc{z2}{833.3}{591}{11.3}{cir=cred,shd,font=\fs{2.6}{3.2}}{sample\\text}
\mkcirc{z3}{862}{561.7}{8.3}{cir=cpurple,shd,font=\fs{2.2}{2.7}}{sample\\text}
\mkcirc{z4}{922}{561.7}{8.3}{cir=cblue,shd,font=\fs{2.2}{2.7}}{sample\\text}
\mkcirc{z5}{938.7}{543.7}{4.3}{cir=cred,font=\fs{2.6}{2.6}}{30}
\mkcirc{z6}{891.7}{591.7}{17.3}{cir=cnavy,shd,font=\fs{2.8}{3.2}}{place text here}
\mkcirc{z7}{862}{621.7}{8.3}{cir=clpur,shd,font=\fs{2.8}{3}}{30}
\mkcirc{z8}{837.3}{621.7}{4.7}{cir=cteal}{}
\mkcirc{z9}{862}{647.3}{4.7}{cir=cnavy}{}
\mkcirc{z10}{890.7}{649.3}{11}{cir=cpurple,shd,font=\fs{2.6}{3.2}}{sample\\text}
\mkcirc{z11}{922.7}{621.7}{8.7}{cir=cteal,shd}{}
\mkcirc{z12}{947.3}{620}{11.3}{cir=cpink,shd,font=\fs{2.6}{3.2}}{sample\\text}
\mkcirc{z13}{922.3}{650.7}{11.3}{cir=clpur,shd,font=\fs{2.6}{3.2}}{sample\\text}
\mkcirc{z14}{829}{656.7}{17.7}{cir=cblue,shd,font=\fs{2.4}{2.8}}{HEADLINE TEXT}
\mkcirc{z15}{792.3}{692.3}{11.3}{cir=cpink,shd,font=\fs{2.6}{3.2}}{sample\\text}
\mkcirc{z16}{949}{676.7}{8.7}{cir=cteal,shd,font=\fs{2.2}{2.7}}{sample\\text}
\mkcirc{z17}{924.7}{701}{10}{cir=cblue,shd,font=\fs{1.8}{2}}{sample text}
\mkcirc{z18}{890.7}{701}{17.3}{cir=cred,shd,font=\fs{2.8}{3.2}}{place text here}
\node[tl] (y1) at (862,533.3) {sample\\text};
\node[tl] (y2) at (833.3,560) {sample\\text};
\node[tl] (y3) at (890,560) {sample\\text};
\node[tl] (y4) at (922,533.3) {10};
\node[tl] (y5) at (902.7,542.7) {20};
\node[tl] (y6) at (949.3,561) {60};
\node[tl] (y7) at (941.7,580) {50};
\node[tl] (y8) at (922,589.3) {10};
\node[tl] (y9) at (796.7,627.3) {sample\\text};
\node[tl] (y10) at (783.3,654) {sample\\text};
\node[tl] (y11) at (826,694.3) {sample\\text};
\node[tl] (y12) at (856.7,686.7) {sample\\text};
\node[tl] (y13) at (949,648.3) {10};
\node[tl] (y14) at (967.3,657.3) {30};
\node[tl] (y15) at (976.7,676.7) {60};
\node[tl] (y16) at (968.3,696) {50};
\node[tl] (y17) at (949,704.3) {10};
\node[tl] (y18) at (921.7,676.7) {20};
\begin{pgfonlayer}{lines}
\foreach \a/\b in {z1/z2,z2/z7,z3/z7,z3/y1,z3/y2,z3/y3,y3/z4,z4/y4,z4/y5,z4/y6,z4/y7,z4/y8,z4/z5,z4/z6,z6/z7,z6/z11,z11/z13,z7/z8,z7/z9,z7/z10,z7/z14,z14/y9,z14/y10,z14/y11,z14/y12,z14/z15,z13/z16,z16/y13,z16/y14,z16/y15,z16/y16,z16/y17,z16/y18,z16/z17,z17/z18}
  \draw[draw=lnL!90!gray, line width=0.8pt] (\a) -- (\b);
\end{pgfonlayer}
\end{tikzpicture}
\end{document}
